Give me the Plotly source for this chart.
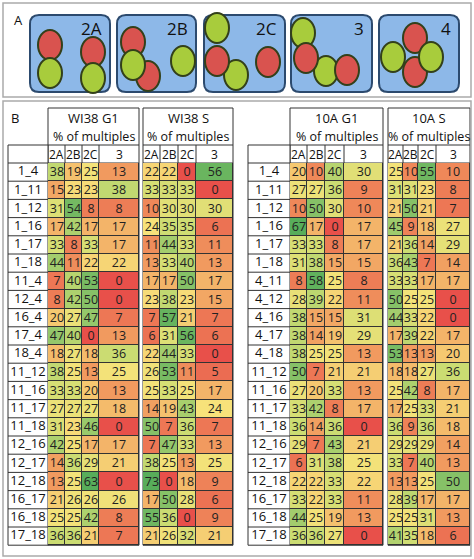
import numpy as np
import plotly.graph_objects as go

cols = ['2A', '2B', '2C', '3']
rows_wi38 = ['1_4', '1_11', '1_12', '1_16', '1_17', '1_18', '11_4', '12_4', '16_4', '17_4', '18_4',
             '11_12', '11_16', '11_17', '11_18', '12_16', '12_17', '12_18', '16_17', '16_18', '17_18']
rows_10a = ['1_4', '1_11', '1_12', '1_16', '1_17', '1_18', '4_11', '4_12', '4_16', '4_17', '4_18',
            '11_12', '11_16', '11_17', '11_18', '12_16', '12_17', '12_18', '16_17', '16_18', '17_18']

wi38_g1 = [[38, 19, 25, 13], [15, 23, 23, 38], [31, 54, 8, 8], [17, 42, 17, 17], [33, 8, 33, 17],
           [44, 11, 22, 22], [7, 40, 53, 0], [8, 42, 50, 0], [20, 27, 47, 7], [47, 40, 0, 13],
           [18, 27, 18, 36], [38, 25, 13, 25], [33, 33, 20, 13], [27, 27, 27, 18], [31, 23, 46, 0],
           [42, 25, 17, 17], [14, 36, 29, 21], [13, 25, 63, 0], [21, 26, 26, 26], [25, 25, 42, 8],
           [36, 36, 21, 7]]
wi38_s = [[22, 22, 0, 56], [33, 33, 33, 0], [10, 30, 30, 30], [24, 35, 35, 6], [11, 44, 33, 11],
          [13, 33, 40, 13], [17, 17, 50, 17], [23, 38, 23, 15], [7, 57, 21, 7], [6, 31, 56, 6],
          [22, 44, 33, 0], [26, 53, 11, 5], [25, 33, 25, 17], [14, 19, 43, 24], [50, 7, 36, 7],
          [7, 47, 33, 13], [38, 25, 13, 25], [73, 0, 18, 9], [17, 50, 28, 6], [55, 36, 0, 9],
          [21, 26, 32, 21]]
a10_g1 = [[20, 10, 40, 30], [27, 27, 36, 9], [10, 50, 30, 10], [67, 17, 0, 17], [33, 33, 8, 17],
          [31, 38, 15, 15], [8, 58, 25, 8], [28, 39, 22, 11], [38, 15, 15, 31], [38, 14, 19, 29],
          [38, 25, 25, 13], [50, 7, 21, 21], [27, 20, 33, 13], [33, 42, 8, 17], [36, 14, 36, 0],
          [29, 7, 43, 21], [6, 31, 38, 25], [22, 22, 33, 22], [33, 22, 33, 11], [44, 25, 19, 13],
          [36, 36, 27, 0]]
a10_s = [[25, 10, 55, 10], [31, 31, 23, 8], [21, 50, 21, 7], [45, 9, 18, 27], [21, 36, 14, 29],
         [36, 43, 7, 14], [33, 33, 17, 17], [50, 25, 25, 0], [44, 33, 22, 0], [17, 39, 22, 17],
         [53, 13, 13, 20], [18, 18, 27, 36], [25, 42, 8, 17], [17, 25, 33, 21], [36, 9, 36, 18],
         [29, 29, 29, 14], [33, 7, 40, 13], [13, 13, 25, 50], [28, 39, 17, 17], [25, 25, 31, 13],
         [41, 35, 18, 6]]

scale = [[0, '#e8504a'], [0.2, '#f0935c'], [0.4, '#f7e27a'], [0.6, '#cbdc72'],
         [0.8, '#8fc56a'], [1, '#58ad5a']]
FONT = 'Open Sans'
ytop = 163
rh = 18.2
yedges = np.linspace(ytop, ytop + rh * 21, 22)

# table geometry: (title, data, row labels, label col edges or None, data col edges)
tables = [
    ('WI38 G1', wi38_g1, rows_wi38, (8, 48), [48, 65, 82, 99, 139]),
    ('WI38 S', wi38_s, None, None, [143, 160, 178, 196, 233]),
    ('10A G1', a10_g1, rows_10a, (248, 290), [290, 307, 325, 344, 383]),
    ('10A S', a10_s, None, None, [388, 403, 418, 436, 470]),
]

fig = go.Figure()
shapes = []
ann = []
line = dict(color='#333', width=1)

# frames
shapes.append(dict(type='rect', x0=3, x1=471, y0=3, y1=97, line=dict(color='#aaa', width=1.5)))
shapes.append(dict(type='rect', x0=3, x1=471, y0=101, y1=556, line=dict(color='#aaa', width=1.5)))
ann.append(dict(x=18, y=20, text='A', showarrow=False, font=dict(size=13)))
ann.append(dict(x=15, y=118, text='B', showarrow=False, font=dict(size=13)))

for title, vals, rlabels, lab, xe in tables:
    x0, x1 = xe[0], xe[-1]
    shapes.append(dict(type='rect', x0=x0, x1=x1, y0=108, y1=yedges[-1], line=line,
                       fillcolor='#333', layer='below'))
    shapes.append(dict(type='rect', x0=x0 + 0.5, x1=x1 - 0.5, y0=108.5, y1=162.5, line=dict(width=0),
                       fillcolor='white', layer='below'))
    shapes.append(dict(type='line', x0=x0, x1=x1, y0=145, y1=145, line=line))
    for e in xe[1:-1]:
        shapes.append(dict(type='line', x0=e, x1=e, y0=145, y1=163, line=line))
    ann.append(dict(x=(x0 + x1) / 2, y=118, text=title, showarrow=False, font=dict(size=13)))
    ann.append(dict(x=(x0 + x1) / 2, y=136, text='% of multiples', showarrow=False, font=dict(size=12.5)))
    for i, c in enumerate(cols):
        ann.append(dict(x=(xe[i] + xe[i + 1]) / 2, y=154, text=c, showarrow=False, font=dict(size=12)))
    fig.add_trace(go.Heatmap(z=vals, x=xe, y=yedges, colorscale=scale, zmin=0, zmax=60,
                             showscale=False, xgap=1, ygap=1, texttemplate='%{z}',
                             textfont=dict(size=12.5, color='#222', family=FONT), hoverinfo='skip'))
    if lab:
        shapes.append(dict(type='rect', x0=lab[0], x1=lab[1], y0=145, y1=yedges[-1], line=line,
                           fillcolor='white', layer='below'))
        for y in yedges[:-1]:
            shapes.append(dict(type='line', x0=lab[0], x1=lab[1], y0=y, y1=y, line=line))
        fig.add_trace(go.Scatter(x=[(lab[0] + lab[1]) / 2] * len(rlabels),
                                 y=(yedges[:-1] + yedges[1:]) / 2, text=rlabels, mode='text',
                                 textfont=dict(size=13, color='#111', family=FONT), hoverinfo='skip'))


def rounded(x0, y0, x1, y1, r=9):
    return (f'M {x0+r},{y0} L {x1-r},{y0} Q {x1},{y0} {x1},{y0+r} L {x1},{y1-r} '
            f'Q {x1},{y1} {x1-r},{y1} L {x0+r},{y1} Q {x0},{y1} {x0},{y1-r} '
            f'L {x0},{y0+r} Q {x0},{y0} {x0+r},{y0} Z')


# panel A cartoons
boxes = [('2A', 30, 110), ('2B', 117, 196), ('2C', 204, 285), ('3', 291, 372), ('4', 379, 459)]
red, green = '#d9534f', '#a8cc3c'
cells = {
    '2A': [(50, 45, red), (50, 73, green), (93, 52, red), (93, 78, green)],
    '2B': [(133, 42, red), (148, 76, red), (133, 65, green), (183, 61, green)],
    '2C': [(217, 28, green), (236, 75, green), (217, 61, red), (268, 62, red)],
    '3': [(303, 33, green), (326, 71, green), (306, 58, red), (347, 70, red)],
    '4': [(415, 38, red), (415, 72, red), (393, 57, green), (431, 57, green)],
}
for name, bx0, bx1 in boxes:
    shapes.append(dict(type='path', path=rounded(bx0, 15, bx1, 92), fillcolor='#8db8e8',
                       line=dict(color='#2c4a6e', width=2)))
    for cx, cy, col in cells[name]:
        shapes.append(dict(type='circle', x0=cx - 12, x1=cx + 12, y0=cy - 15, y1=cy + 15,
                           fillcolor=col, line=dict(color='#33401a', width=2)))
    ann.append(dict(x=bx1 - 6, y=28, text=name, xanchor='right', showarrow=False,
                    font=dict(size=17, color='#111')))

fig.update_layout(
    width=474, height=559, margin=dict(l=0, r=0, t=0, b=0),
    paper_bgcolor='white', plot_bgcolor='white', showlegend=False,
    font=dict(family=FONT, color='#111'),
    xaxis=dict(range=[0, 474], visible=False, fixedrange=True),
    yaxis=dict(range=[559, 0], visible=False, fixedrange=True),
    shapes=shapes, annotations=ann,
)
fig.write_html('out.html', config={'displayModeBar': False},
               post_script="document.body.style.margin='0';")
